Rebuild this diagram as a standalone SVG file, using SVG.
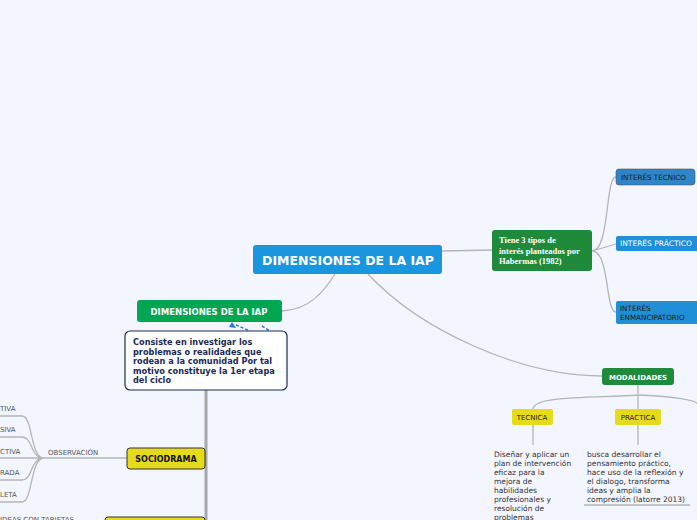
<svg xmlns="http://www.w3.org/2000/svg" width="697" height="520" viewBox="0 0 697 520">
<style>
.c{fill:none;stroke:#b5b5b5;stroke-width:1.3}
.cd{fill:none;stroke:#a8a8a8;stroke-width:3}
.s{font-family:Verdana,"DejaVu Sans",sans-serif}
.b{font-weight:bold}
.g{fill:#555;font-size:7px}
.t{fill:#333;font-size:7.5px}
</style>
<rect width="697" height="520" fill="#f3f6fe"/>
<g id="connectors">
<path class="c" d="M442 251 L492 250"/>
<path class="c" d="M335 274 C325 290 310 310 282 311"/>
<path class="c" d="M368 274 C420 330 520 376 602 376"/>
<path class="c" d="M592 251 C610 251 605 177 616 177 M592 251 L616 244 M592 251 C610 251 605 312 616 312"/>
<path class="c" d="M638 385 L638 395 C600 398 533 395 533 409 M638 395 L638 409 M638 395 C670 396 697 400 697 404"/>
<path class="c" d="M533 425 L533 445 M638 425 L638 445"/>
<path class="c" d="M584 505 L690 505"/>
<path class="cd" d="M206 390 L206 520"/>
<path class="c" d="M127 458 L44 458"/>
<path class="c" d="M44 458 C30 458 33 416 22 416 L0 416 M44 458 C30 458 33 437 22 437 L0 437 M44 458 L0 458 M44 458 C30 458 33 480 22 480 L0 480 M44 458 C30 458 33 502 22 502 L0 502"/>
<path d="M232 322 L236 328 L229 327 Z" fill="#1a7ee0"/>
<path d="M236 325 L250 331 M262 326 L270 331" stroke="#1a7ee0" stroke-width="1.5" stroke-dasharray="3 2" fill="none"/>
</g>
<g id="central"><rect x="253" y="245" width="189" height="29" rx="3" fill="#1a95e0"/><text x="348" y="265" text-anchor="middle" class="s b" font-size="12.5" fill="#fff">DIMENSIONES DE LA IAP</text></g>
<g id="dim2"><rect x="137" y="300" width="145" height="22" rx="3" fill="#00a651"/><text x="209" y="315" text-anchor="middle" class="s b" font-size="8.5" fill="#fff">DIMENSIONES DE LA IAP</text></g>
<g id="consiste"><rect x="125" y="331" width="162" height="59" rx="5" fill="#fff" stroke="#1c2a55" stroke-width="1.2"/>
<text class="s b" font-size="8.2" fill="#1c2a55"><tspan x="133" y="345">Consiste en investigar los</tspan><tspan x="133" y="355">problemas o realidades que</tspan><tspan x="133" y="364">rodean a la comunidad Por tal</tspan><tspan x="133" y="374">motivo constituye la 1er etapa</tspan><tspan x="133" y="383">del ciclo</tspan></text></g>
<g id="sociodrama"><rect x="127" y="448" width="78" height="21" rx="3" fill="#e6da1e" stroke="#333"/><text x="166" y="462" text-anchor="middle" class="s b" font-size="8" fill="#111">SOCIODRAMA</text></g>
<g id="yellow2"><rect x="105" y="517" width="100" height="10" rx="3" fill="#e6da1e" stroke="#333"/></g>
<g id="left" class="s g"><text x="0" y="411">TIVA</text><text x="0" y="432">SIVA</text><text x="0" y="454">CTIVA</text><text x="0" y="475">RADA</text><text x="0" y="497">LETA</text><text x="48" y="455" fill="#555">OBSERVACIÓN</text><text x="0" y="522">IDEAS CON TARJETAS</text></g>
<g id="habermas"><rect x="492" y="230" width="100" height="41" rx="3" fill="#1e8a3a"/><text font-family="Liberation Serif,serif" font-weight="bold" font-size="8.5" fill="#fff"><tspan x="499" y="243">Tiene 3 tipos de</tspan><tspan x="499" y="254">interés planteados por</tspan><tspan x="499" y="264">Habermas (1982)</tspan></text></g>
<g id="tecnico"><rect x="616" y="169" width="79" height="16" rx="3" fill="#2e85c9" stroke="#555" stroke-width="0.6"/><text x="621" y="180" class="s" font-size="7.2" fill="#1a1a1a">INTERÉS TECNICO</text></g>
<g id="practico"><rect x="616" y="236" width="85" height="15" rx="2" fill="#1f8fd8"/><text x="620" y="246" class="s" font-size="7.5" fill="#fff">INTERÉS PRÁCTICO</text></g>
<g id="emancipatorio"><rect x="616" y="301" width="85" height="23" rx="2" fill="#1f8fd8"/><text class="s" font-size="7.2" fill="#1a1a1a"><tspan x="620" y="311">INTERÉS</tspan><tspan x="620" y="320">ENMANCIPATORIO</tspan></text></g>
<g id="modalidades"><rect x="602" y="368" width="72" height="17" rx="3" fill="#1e8a3a"/><text x="638" y="380" text-anchor="middle" class="s b" font-size="7" fill="#fff">MODALIDADES</text></g>
<g id="tecnica"><rect x="512" y="409" width="41" height="16" rx="2" fill="#e6da1e"/><text x="532" y="420" text-anchor="middle" class="s" font-size="7" fill="#222">TECNICA</text></g>
<g id="practica"><rect x="615" y="409" width="46" height="16" rx="2" fill="#e6da1e"/><text x="638" y="420" text-anchor="middle" class="s" font-size="7" fill="#222">PRACTICA</text></g>
<g id="tecnica-text" class="s t"><text><tspan x="494" y="457">Diseñar y aplicar un</tspan><tspan x="494" y="466">plan de intervención</tspan><tspan x="494" y="475">eficaz para la</tspan><tspan x="494" y="484">mejora de</tspan><tspan x="494" y="493">habilidades</tspan><tspan x="494" y="502">profesionales y</tspan><tspan x="494" y="511">resolución de</tspan><tspan x="494" y="520">problemas</tspan></text></g>
<g id="practica-text" class="s t"><text><tspan x="587" y="457">busca desarrollar el</tspan><tspan x="587" y="466">pensamiento práctico,</tspan><tspan x="587" y="475">hace uso de la reflexión y</tspan><tspan x="587" y="484">el dialogo, transforma</tspan><tspan x="587" y="493">ideas y amplia la</tspan><tspan x="587" y="502">compresión (latorre 2013)</tspan></text></g>
</svg>
